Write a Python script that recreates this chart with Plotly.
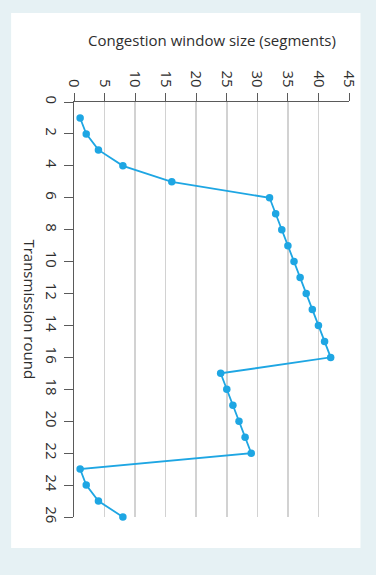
import plotly.graph_objects as go

rounds = list(range(1, 27))
cwnd = [1, 2, 4, 8, 16, 32, 33, 34, 35, 36, 37, 38, 39, 40, 41, 42,
        24, 25, 26, 27, 28, 29, 1, 2, 4, 8]
x_ticks = [0, 5, 10, 15, 20, 25, 30, 35, 40, 45]
y_ticks = list(range(0, 27, 2))

FONT = "Open Sans"
TXT = "#2e2e2e"
AX = "#5a5a5a"
BLUE = "#1ea6e3"

W, H = 376, 575
L, R, T, B = 74, 376 - 349.5, 102, 575 - 517
pw, ph = W - L - R, H - T - B

def px(x):
    return (x - L) / pw

def py(y):
    return (H - B - y) / ph

fig = go.Figure()
fig.add_trace(go.Scatter(
    x=cwnd, y=rounds, mode="lines+markers",
    line=dict(color=BLUE, width=1.8),
    marker=dict(color=BLUE, size=7.5),
    cliponaxis=False, hoverinfo="skip"))

fig.update_layout(
    width=W, height=H,
    margin=dict(l=L, r=R, t=T, b=B, pad=0, autoexpand=False),
    paper_bgcolor="#e6f1f4",
    plot_bgcolor="white",
    showlegend=False,
    font=dict(family=FONT, color=TXT, size=15),
    xaxis=dict(
        side="top", range=[0, 45], tickvals=x_ticks,
        ticktext=[str(v) for v in x_ticks], tickangle=90,
        ticks="outside", ticklen=8, tickcolor=AX, tickwidth=1,
        showline=True, linecolor=AX, linewidth=1.2,
        showgrid=True, gridcolor="#d2d2d2", gridwidth=1.5,
        zeroline=False, automargin=False,
        tickfont=dict(size=15, color=TXT, family=FONT),
        fixedrange=True),
    yaxis=dict(
        range=[26, 0], tickvals=y_ticks,
        ticktext=[str(v) for v in y_ticks], tickangle=90,
        ticks="outside", ticklen=9, tickcolor=AX, tickwidth=1,
        showline=True, linecolor=AX, linewidth=1.2,
        showgrid=False, zeroline=False, automargin=False,
        tickfont=dict(size=15, color=TXT, family=FONT),
        fixedrange=True),
    shapes=[dict(type="rect", xref="paper", yref="paper",
                 x0=px(11), x1=px(361), y0=py(548), y1=py(13),
                 fillcolor="white", line=dict(width=0), layer="below")],
    annotations=[
        dict(text="Congestion window size (segments)", xref="paper", yref="paper",
             x=0.5, y=py(40), xanchor="center", yanchor="middle",
             showarrow=False, font=dict(size=15, color=TXT, family=FONT)),
        dict(text="Transmission round", xref="paper", yref="paper",
             x=px(30), y=0.5, xanchor="center", yanchor="middle",
             textangle=90, showarrow=False,
             font=dict(size=15, color=TXT, family=FONT)),
    ],
)

fig.write_html(
    "out.html",
    config={"displayModeBar": False, "staticPlot": True},
    post_script="document.body.style.margin='0';document.body.style.padding='0';"
                "document.body.style.overflow='hidden';"
                "document.body.style.background='#e6f1f4';",
)
